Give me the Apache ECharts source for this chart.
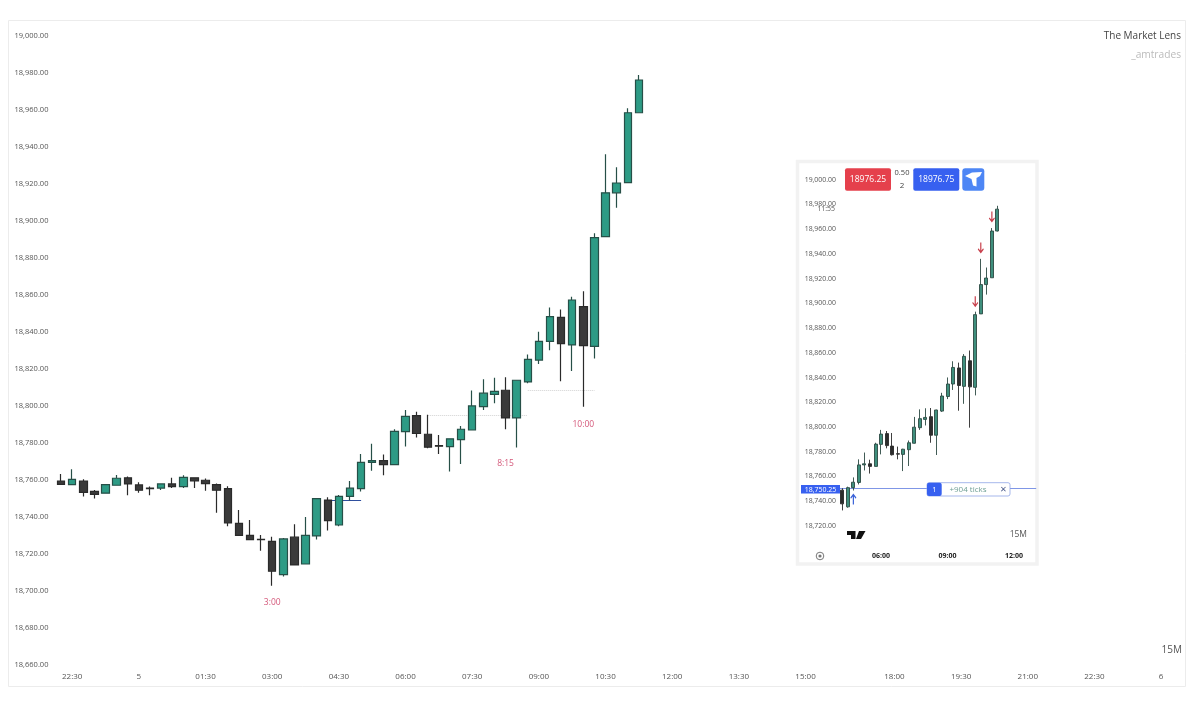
<!DOCTYPE html>
<html>
<head>
<meta charset="utf-8">
<script src="https://cdn.jsdelivr.net/npm/echarts@6/dist/echarts.min.js"></script>
<style>
html, body { margin: 0; padding: 0; background: #fff; }
#chart { width: 1200px; height: 713px; }
</style>
</head>
<body>
<div id="chart"></div>
<script>
// 15 minute slots along the bottom, the session break 16:00-17:00 is left out
var times = [
  '4 21:00','4 21:15','4 21:30','4 21:45','4 22:00','4 22:15','4 22:30','4 22:45',
  '4 23:00','4 23:15','4 23:30','4 23:45','5 00:00','5 00:15','5 00:30','5 00:45',
  '5 01:00','5 01:15','5 01:30','5 01:45','5 02:00','5 02:15','5 02:30','5 02:45',
  '5 03:00','5 03:15','5 03:30','5 03:45','5 04:00','5 04:15','5 04:30','5 04:45',
  '5 05:00','5 05:15','5 05:30','5 05:45','5 06:00','5 06:15','5 06:30','5 06:45',
  '5 07:00','5 07:15','5 07:30','5 07:45','5 08:00','5 08:15','5 08:30','5 08:45',
  '5 09:00','5 09:15','5 09:30','5 09:45','5 10:00','5 10:15','5 10:30','5 10:45',
  '5 11:00','5 11:15','5 11:30','5 11:45','5 12:00','5 12:15','5 12:30','5 12:45',
  '5 13:00','5 13:15','5 13:30','5 13:45','5 14:00','5 14:15','5 14:30','5 14:45',
  '5 15:00','5 15:15','5 15:30','5 15:45','5 17:00','5 17:15','5 17:30','5 17:45',
  '5 18:00','5 18:15','5 18:30','5 18:45','5 19:00','5 19:15','5 19:30','5 19:45',
  '5 20:00','5 20:15','5 20:30','5 20:45','5 21:00','5 21:15','5 21:30','5 21:45',
  '5 22:00','5 22:15','5 22:30','5 22:45','5 23:00','5 23:15','5 23:30','5 23:45',
  '6 00:00','6 00:15','6 00:30'
];
var tickTimes = ['4 22:30','5 00:00','5 01:30','5 03:00','5 04:30','5 06:00','5 07:30','5 09:00','5 10:30','5 12:00','5 13:30','5 15:00','5 18:00','5 19:30','5 21:00','5 22:30','6 00:00'];
var tickLabels = ['22:30','5','01:30','03:00','04:30','06:00','07:30','09:00','10:30','12:00','13:30','15:00','18:00','19:30','21:00','22:30','6'];
var insetTickTimes = ['5 06:00','5 09:00','5 12:00'];
var insetTickLabels = ['06:00','09:00','12:00'];

// candles, first one sits at 22:15
var firstBar = '4 22:15';
var opens = [18759.3,18757.3,18759.3,18753.7,18752.7,18757.0,18761.0,18757.2,18755.4,18755.5,18757.7,18756.3,18761.0,18759.7,18757.3,18755.2,18736.4,18729.9,18727.8,18726.7,18708.7,18728.9,18714.4,18729.6,18749.0,18735.5,18751.0,18755.2,18769.4,18770.3,18768.2,18786.0,18794.7,18784.6,18778.5,18777.9,18781.7,18786.9,18799.5,18806.2,18808.4,18793.4,18812.9,18824.7,18834.8,18847.8,18832.9,18853.6,18832.1,18891.5,18915.2,18920.7,18958.5];
var closes = [18757.5,18760.2,18753.2,18752.1,18757.3,18760.8,18757.7,18754.3,18755.2,18757.7,18756.3,18761.3,18759.3,18757.9,18754.3,18736.6,18729.9,18727.6,18727.6,18710.5,18728.0,18713.9,18729.9,18749.8,18737.9,18751.0,18755.4,18769.4,18770.3,18768.2,18786.2,18794.3,18785.0,18777.6,18778.1,18782.1,18787.3,18799.9,18806.8,18807.8,18793.4,18813.8,18825.1,18834.8,18848.2,18833.6,18857.2,18832.5,18890.9,18915.2,18920.5,18958.5,18976.2];
var lows = [18757.2,18757.3,18750.9,18749.8,18752.7,18757.0,18751.6,18753.0,18751.6,18754.5,18755.5,18755.5,18755.5,18754.1,18742.2,18734.8,18729.6,18727.4,18721.6,18702.7,18707.6,18713.7,18714.3,18727.6,18732.6,18734.8,18748.7,18753.6,18764.9,18762.4,18768.2,18777.9,18782.8,18777.0,18773.9,18764.4,18768.5,18786.7,18797.7,18801.3,18787.3,18777.4,18812.2,18822.6,18830.0,18813.2,18818.8,18799.5,18825.6,18891.5,18907.1,18920.7,18958.2];
var highs = [18763.1,18765.6,18760.2,18754.5,18757.5,18762.6,18761.7,18758.6,18756.3,18758.0,18761.1,18762.4,18761.3,18760.6,18758.0,18756.4,18743.6,18738.2,18730.1,18729.2,18728.5,18735.9,18739.9,18750.0,18750.5,18751.8,18759.3,18773.9,18779.4,18773.6,18787.3,18797.7,18796.8,18795.2,18784.2,18782.4,18789.1,18808.2,18814.3,18815.2,18815.4,18814.0,18827.7,18840.1,18853.2,18852.1,18859.0,18861.9,18893.3,18936.0,18929.0,18960.9,18978.9];

// time notes under the candles
var noteLabels = ['3:00','8:15','10:00'];
var noteTimes = ['5 03:00','5 08:15','5 10:00'];
var notePrices = [18693.4,18769,18790];

// levels on the big chart: [from, to, price]
var dottedLevels = [['5 06:30','5 08:45',18794.7],['5 08:45','5 10:15',18808.6]];
var blueLevel = ['5 04:15','5 05:00',18749];

// the small chart
var insetFirstBar = '5 04:15';
var insetStart = '5 02:15';
var insetSlots = 44;
var entryPrice = 18750.25;
var sellArrowTimes = ['5 10:15','5 10:30','5 11:00'];
var sellArrowPrices = [18901.4,18944.8,18969.8];
var buyArrowTime = '5 04:45';
var buyArrowPrice = 18741.8;

function rows(slots, startTime) {
  var first = times.indexOf(firstBar);
  var start = times.indexOf(startTime);
  return slots.map(function (t, k) {
    var n = start + k - first;
    if (n < 0 || n >= opens.length) return ['-', '-', '-', '-'];
    return [opens[n], closes[n], lows[n], highs[n]];
  });
}

var insetTimes = times.slice(times.indexOf(insetStart), times.indexOf(insetStart) + insetSlots);
var mainRows = rows(times, times[0]);
var insetRows = rows(insetTimes, insetStart).map(function (r, k) {
  return insetTimes[k] < insetFirstBar ? ['-', '-', '-', '-'] : r;
});

var priceText = function (v) {
  return v.toLocaleString('en-US', { minimumFractionDigits: 2, maximumFractionDigits: 2 });
};
var labelFont = '"Open Sans", sans-serif';
var arrowDown = 'path://M4 0 L6 0 L6 11 L9 8 L10 9.5 L5 15 L0 9.5 L1 8 L4 11 Z';
var arrowUp = 'path://M4 15 L6 15 L6 4 L9 7 L10 5.5 L5 0 L0 5.5 L1 7 L4 4 Z';

var myChart = echarts.init(document.getElementById('chart'));

var dottedStyle = { color: '#d2d2d2', type: 'dotted', width: 1 };
var mainLines = dottedLevels.map(function (l) {
  return [{ coord: [l[0], l[2]], lineStyle: dottedStyle }, { coord: [l[1], l[2]] }];
});
mainLines.push([
  { coord: [blueLevel[0], blueLevel[2]], lineStyle: { color: '#2f4f9e', type: 'solid', width: 1 } },
  { coord: [blueLevel[1], blueLevel[2]] }
]);

var option = {
  animation: false,
  backgroundColor: '#fff',
  grid: [
    { left: 0, top: 36, width: 1188.9, height: 628.6 },
    { left: 795.2, top: 179.7, width: 243.76, height: 346.3 }
  ],
  xAxis: [
    {
      type: 'category', gridIndex: 0, data: times,
      axisLine: { show: false }, axisTick: { show: false }, splitLine: { show: false },
      axisLabel: {
        margin: 8, fontSize: 8, color: '#555', fontFamily: labelFont,
        interval: function (i, v) { return tickTimes.indexOf(v) >= 0; },
        formatter: function (v) { return tickLabels[tickTimes.indexOf(v)]; }
      }
    },
    {
      type: 'category', gridIndex: 1, data: insetTimes,
      axisLine: { show: false }, axisTick: { show: false }, splitLine: { show: false },
      axisLabel: {
        margin: 26, fontSize: 7, fontWeight: 'bold', color: '#222', fontFamily: labelFont,
        interval: function (i, v) { return insetTickTimes.indexOf(v) >= 0; },
        formatter: function (v) { return insetTickLabels[insetTickTimes.indexOf(v)]; }
      }
    }
  ],
  yAxis: [
    {
      type: 'value', gridIndex: 0, min: 18660, max: 19000, interval: 20,
      axisLine: { show: false }, axisTick: { show: false }, splitLine: { show: false },
      axisLabel: { inside: true, margin: 14.5, fontSize: 7.5, color: '#555', fontFamily: labelFont, padding: [3, 0, 0, 0], formatter: priceText }
    },
    {
      type: 'value', gridIndex: 1, min: 18720, max: 19000, interval: 20,
      axisLine: { show: false }, axisTick: { show: false }, splitLine: { show: false },
      axisLabel: { inside: true, margin: 9.5, fontSize: 6.9, color: '#555', fontFamily: labelFont, formatter: priceText }
    }
  ],
  series: [
    {
      type: 'candlestick', xAxisIndex: 0, yAxisIndex: 0, data: mainRows, barWidth: 8,
      itemStyle: { color: '#2d9b85', color0: '#3a3a3a', borderColor: '#264f47', borderColor0: '#2a2a2a', borderWidth: 1.2 },
      // levels sit behind the candles
      markLine: { z: 1, silent: true, symbol: 'none', label: { show: false }, data: mainLines },
      markPoint: {
        silent: true, symbol: 'circle', symbolSize: 0,
        label: { show: true, position: 'inside', fontSize: 8.5, color: '#d4587a', fontFamily: labelFont },
        data: noteLabels.map(function (t, k) {
          return { coord: [noteTimes[k], notePrices[k]], value: t, label: { formatter: t } };
        })
      }
    },
    {
      type: 'candlestick', xAxisIndex: 1, yAxisIndex: 1, data: insetRows, barWidth: 3.5,
      itemStyle: { color: '#3f8f7d', color0: '#2d2d2d', borderColor: '#2c4a43', borderColor0: '#2a2a2a', borderWidth: 0.9 },
      markLine: {
        z: 1, silent: true, symbol: 'none', label: { show: false },
        lineStyle: { color: '#7f96e6', type: 'solid', width: 1 },
        data: [[{ coord: [insetTimes[1], entryPrice] }, { coord: [insetTimes[insetSlots - 1], entryPrice] }]]
      },
      markPoint: {
        silent: true, symbolSize: [6, 11], label: { show: false },
        data: sellArrowTimes.map(function (t, k) {
          return { coord: [t, sellArrowPrices[k]], symbol: arrowDown, itemStyle: { color: '#c8404c' } };
        }).concat([{ coord: [buyArrowTime, buyArrowPrice], symbol: arrowUp, itemStyle: { color: '#3a62d8' } }])
      }
    }
  ],
  graphic: [
    // outer frame and inset panel
    { type: 'rect', z: -1, silent: true, shape: { x: 8.5, y: 20.5, width: 1177, height: 666 }, style: { fill: 'none', stroke: '#ececec', lineWidth: 1 } },
    { type: 'rect', z: -1, silent: true, shape: { x: 797.5, y: 161.5, width: 239.5, height: 402.5 }, style: { fill: '#fff', stroke: '#f2f2f2', lineWidth: 3.5 } },
    // top right captions
    { type: 'text', z: 100, silent: true, style: { x: 1181, y: 36, text: 'The Market Lens', align: 'right', verticalAlign: 'middle', font: '10px "Open Sans", sans-serif', fill: '#444' } },
    { type: 'text', z: 100, silent: true, style: { x: 1181, y: 55, text: '_amtrades', align: 'right', verticalAlign: 'middle', font: '10.2px "Open Sans", sans-serif', fill: '#bbb' } },
    { type: 'text', z: 100, silent: true, style: { x: 1182, y: 650, text: '15M', align: 'right', verticalAlign: 'middle', font: '10px "Open Sans", sans-serif', fill: '#555' } },
    // order buttons of the inset
    { type: 'rect', z: 100, silent: true, shape: { x: 845, y: 168.3, width: 46, height: 22.4, r: 2 }, style: { fill: '#e5404c' } },
    { type: 'text', z: 101, silent: true, style: { x: 868, y: 179.5, text: '18976.25', align: 'center', verticalAlign: 'middle', font: '8.5px "Open Sans", sans-serif', fill: '#fff' } },
    { type: 'text', z: 101, silent: true, style: { x: 902, y: 172.5, text: '0.50', align: 'center', verticalAlign: 'middle', font: '7.5px "Open Sans", sans-serif', fill: '#444' } },
    { type: 'text', z: 101, silent: true, style: { x: 902, y: 186, text: '2', align: 'center', verticalAlign: 'middle', font: '8px "Open Sans", sans-serif', fill: '#444' } },
    { type: 'rect', z: 100, silent: true, shape: { x: 913.3, y: 168.3, width: 46, height: 22.4, r: 2 }, style: { fill: '#3760f0' } },
    { type: 'text', z: 101, silent: true, style: { x: 936.3, y: 179.5, text: '18976.75', align: 'center', verticalAlign: 'middle', font: '8.5px "Open Sans", sans-serif', fill: '#fff' } },
    { type: 'rect', z: 100, silent: true, shape: { x: 962.3, y: 168.3, width: 22, height: 22.4, r: 3 }, style: { fill: '#4d86f5' } },
    { type: 'polygon', z: 101, silent: true, shape: { points: [[965, 176], [972, 172.5], [982, 172], [980, 176], [976.5, 178], [976.5, 186.5], [973, 185.5], [971.5, 179]] }, style: { fill: '#fff' } },
    // time left on the bar
    { type: 'text', z: 101, silent: true, style: { x: 835, y: 209, text: '11:55', align: 'right', verticalAlign: 'middle', font: '6.9px "Open Sans", sans-serif', fill: '#555' } },
    // entry price tag and position box
    { type: 'rect', z: 100, silent: true, shape: { x: 801, y: 485, width: 39, height: 8.5 }, style: { fill: '#3760f0' } },
    { type: 'text', z: 101, silent: true, style: { x: 820.5, y: 489.5, text: '18,750.25', align: 'center', verticalAlign: 'middle', font: '7px "Open Sans", sans-serif', fill: '#fff' } },
    { type: 'rect', z: 100, silent: true, shape: { x: 927, y: 482.7, width: 83, height: 13.3, r: 2 }, style: { fill: '#fff', stroke: '#8fa4e6', lineWidth: 0.8 } },
    { type: 'rect', z: 101, silent: true, shape: { x: 927, y: 482.7, width: 14.7, height: 13.3, r: 2 }, style: { fill: '#3760f0' } },
    { type: 'text', z: 102, silent: true, style: { x: 934.3, y: 489.5, text: '1', align: 'center', verticalAlign: 'middle', font: '7.5px "Open Sans", sans-serif', fill: '#fff' } },
    { type: 'text', z: 102, silent: true, style: { x: 968, y: 489.7, text: '+904 ticks', align: 'center', verticalAlign: 'middle', font: '8px "Open Sans", sans-serif', fill: '#6f9f95' } },
    { type: 'text', z: 102, silent: true, style: { x: 1003.3, y: 489.5, text: '×', align: 'center', verticalAlign: 'middle', font: '11px "Open Sans", sans-serif', fill: '#4a5a8a' } },
    // tradingview mark, 15M caption and settings glyph
    { type: 'polygon', z: 100, silent: true, shape: { points: [[847, 531], [855.5, 531], [855.5, 539], [851, 539], [851, 535], [847, 535]] }, style: { fill: '#111' } },
    { type: 'polygon', z: 100, silent: true, shape: { points: [[859, 531], [865.5, 531], [861, 539], [856, 539]] }, style: { fill: '#111' } },
    { type: 'text', z: 100, silent: true, style: { x: 1027, y: 535, text: '15M', align: 'right', verticalAlign: 'middle', font: '8.5px "Open Sans", sans-serif', fill: '#555' } },
    { type: 'circle', z: 100, silent: true, shape: { cx: 820, cy: 556, r: 3.8 }, style: { fill: 'none', stroke: '#555', lineWidth: 0.8 } },
    { type: 'circle', z: 100, silent: true, shape: { cx: 820, cy: 556, r: 1.6 }, style: { fill: '#777' } }
  ]
};

myChart.setOption(option);
</script>
</body>
</html>
